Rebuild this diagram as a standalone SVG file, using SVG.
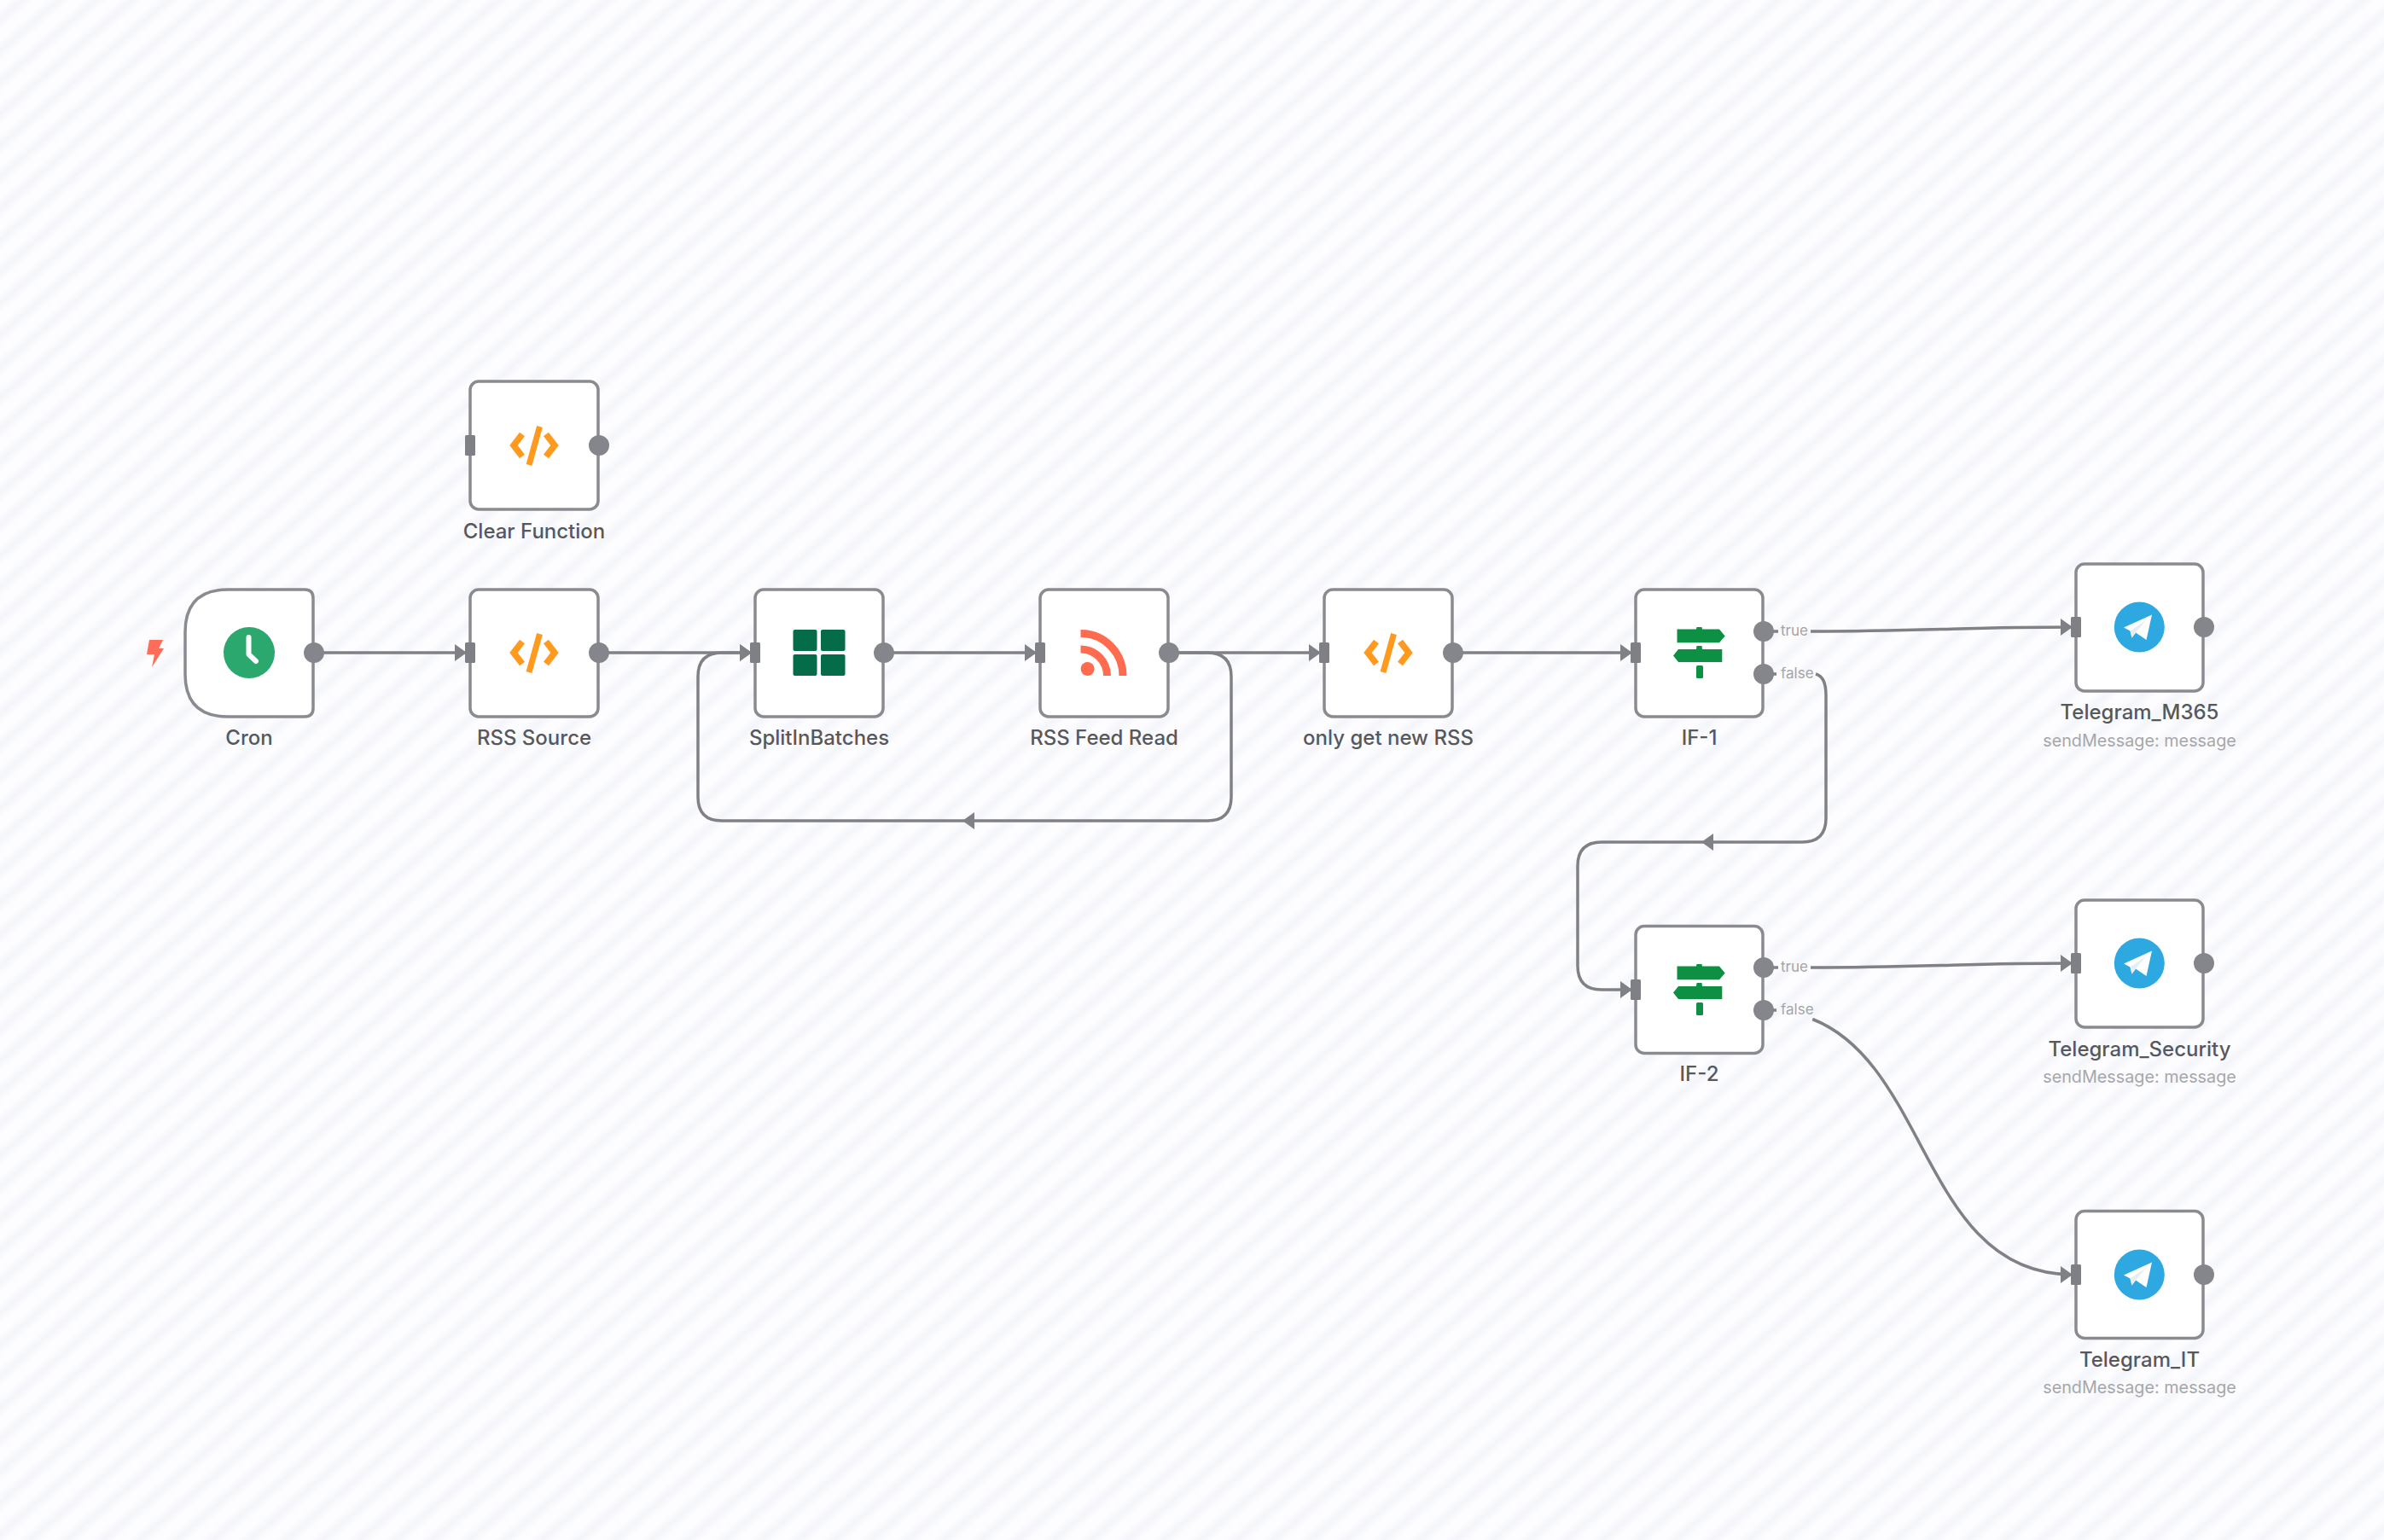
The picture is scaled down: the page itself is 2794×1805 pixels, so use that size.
<svg xmlns="http://www.w3.org/2000/svg" width="2794" height="1805" viewBox="0 0 2794 1805">
<style>
.box{fill:#fff;stroke:#8a8b90;stroke-width:3.5}
.in{fill:#7f8085}
.out{fill:#85868b}
.edge{fill:none;stroke:#808186;stroke-width:3.5}
.arrow{fill:#808186}
text{font-family:"Inter","Liberation Sans",sans-serif;text-anchor:middle}
.name{font-size:24px;font-weight:500;fill:#57585c}
.sub{font-size:19.8px;fill:#a6a7aa}
.lab{font-size:17px;fill:#a3a4a7;text-anchor:start}
</style>
<defs>
<linearGradient id="stripes" gradientUnits="userSpaceOnUse" x1="11.2" y1="12.9" x2="29.5" y2="34.1" spreadMethod="repeat">
<stop offset="0" stop-color="#f4f5fa"/><stop offset=".35" stop-color="#fdfdff"/><stop offset=".65" stop-color="#fdfdff"/><stop offset="1" stop-color="#f4f5fa"/>
</linearGradient>
<marker id="tip" markerUnits="userSpaceOnUse" markerWidth="14" markerHeight="20" refX="14" refY="10" orient="auto"><path d="M0 0L14 10L0 20Z" fill="#808186"/></marker>
<g id="i-code"><path d="M612 509L602 522L612 535M640 509L650 522L640 535" fill="none" stroke="#ff9a1f" stroke-width="7.5"/><path d="M632.500 500L620 545" fill="none" stroke="#ff9a1f" stroke-width="7"/></g>
<g id="i-if" fill="#0e9044"><path d="M1988 737.500L1988.500 735H1994.500L1995 737.500H2015L2021.700 745.500L2015 753.300H1965.500V737.500Z"/><path d="M1988 761L1988.500 757H1994.500L1995 761H2018.300V776H1967L1961 768.500L1967 761Z"/><rect x="1988" y="780" width="8" height="15" rx="1.500"/></g>
<g id="i-tg"><circle cx="2507.300" cy="735" r="29.500" fill="#2ea8e0"/><path d="M2489 735.500L2522 720.500L2515.500 750L2503 741.500L2498.500 747.500L2496.500 739.500Z" fill="#fff"/><path d="M2496.500 739.500L2498.500 747.500L2503 741.500L2515 727Z" fill="#e4eef4"/></g>
<rect id="port-in" x="-6" y="-12" width="12" height="24" rx="1.500" class="in"/>
</defs>
<rect id="background" width="2794" height="1805" fill="url(#stripes)"/>
<g id="connectors">
<path class="edge" marker-end="url(#tip)" d="M368 765H547"/>
<path class="edge" marker-end="url(#tip)" d="M702 765H881"/>
<path class="edge" marker-end="url(#tip)" d="M1035 765H1215"/>
<path class="edge" marker-end="url(#tip)" d="M1370 765H1548"/>
<path class="edge" marker-end="url(#tip)" d="M1703 765H1913"/>
<path class="edge" marker-end="url(#tip)" d="M1369 765H1415Q1443 765 1443 793V934Q1443 962 1415 962H846Q818 962 818 934V793Q818 765 846 765H881"/>
<polygon class="arrow" points="1128,962 1142,952 1142,972"/>
<path class="edge" d="M2066 790H2082M2128 790Q2140 793 2140 815V959Q2140 987 2112 987H1877Q1849 987 1849 1015V1132Q1849 1160 1877 1160H1913" marker-end="url(#tip)"/>
<polygon class="arrow" points="1994,987 2008,977 2008,997"/>
<path class="edge" d="M2066 740H2084M2122 740C2250 740 2300 735 2429 735" marker-end="url(#tip)"/>
<path class="edge" d="M2066 1134H2084M2122 1134C2250 1134 2300 1129 2429 1129" marker-end="url(#tip)"/>
<path class="edge" d="M2066 1184H2082M2124.200 1194.500C2261.600 1248.500 2255 1494 2429 1494" marker-end="url(#tip)"/>
</g>
<g id="edge-labels">
<text class="lab" x="2087" y="745">true</text>
<text class="lab" x="2087" y="795">false</text>
<text class="lab" x="2087" y="1139">true</text>
<text class="lab" x="2087" y="1189">false</text>
</g>
<g id="node-clear-function">
<rect class="box" x="551" y="447" width="150" height="150" rx="10"/>
<use href="#port-in" x="551" y="522"/><circle class="out" cx="702" cy="522" r="12"/>
<use href="#i-code"/>
<text class="name" x="626" y="631">Clear Function</text>
</g>
<g id="node-cron">
<path class="box" d="M267 691H357Q367 691 367 701V830Q367 840 357 840H267Q217 840 217 790V741Q217 691 267 691Z"/>
<circle class="out" cx="368" cy="765" r="12"/>
<circle cx="292" cy="765" r="30" fill="#2aa86d"/>
<path d="M291.500 747V767L300 775" fill="none" stroke="#fff" stroke-width="6" stroke-linecap="round" stroke-linejoin="round"/>
<path d="M175 750H191L186 760H192L178 782L181 767H172Z" fill="#ff6d5a"/>
<text class="name" x="292" y="873">Cron</text>
</g>
<g id="node-rss-source">
<rect class="box" x="551" y="691" width="150" height="149" rx="10"/>
<use href="#port-in" x="551" y="765"/><circle class="out" cx="702" cy="765" r="12"/>
<use href="#i-code" y="243"/>
<text class="name" x="626" y="873">RSS Source</text>
</g>
<g id="node-splitinbatches">
<rect class="box" x="885" y="691" width="150" height="149" rx="10"/>
<use href="#port-in" x="885" y="765"/><circle class="out" cx="1036" cy="765" r="12"/>
<g fill="#046c49"><rect x="929.500" y="738" width="28" height="25" rx="2"/><rect x="962" y="738" width="28.500" height="25" rx="2"/><rect x="929.500" y="767" width="28" height="25" rx="2"/><rect x="962" y="767" width="28.500" height="25" rx="2"/></g>
<text class="name" x="960" y="873">SplitInBatches</text>
</g>
<g id="node-rss-feed-read">
<rect class="box" x="1219" y="691" width="150" height="149" rx="10"/>
<use href="#port-in" x="1219" y="765"/><circle class="out" cx="1370" cy="765" r="12"/>
<circle cx="1274.600" cy="784" r="8" fill="#ff6b4f"/>
<path d="M1266.500 742.500A49.500 49.500 0 0 1 1316 792M1266.500 761A31 31 0 0 1 1297.500 792" fill="none" stroke="#ff6b4f" stroke-width="9"/>
<text class="name" x="1294" y="873">RSS Feed Read</text>
</g>
<g id="node-only-get-new-rss">
<rect class="box" x="1552" y="691" width="150" height="149" rx="10"/>
<use href="#port-in" x="1552" y="765"/><circle class="out" cx="1703" cy="765" r="12"/>
<use href="#i-code" x="1001" y="243"/>
<text class="name" x="1627" y="873">only get new RSS</text>
</g>
<g id="node-if-1">
<rect class="box" x="1917" y="691" width="149" height="149" rx="10"/>
<use href="#port-in" x="1917" y="765"/><circle class="out" cx="2067" cy="740" r="12"/><circle class="out" cx="2067" cy="790" r="12"/>
<use href="#i-if"/>
<text class="name" x="1991.500" y="873">IF-1</text>
</g>
<g id="node-if-2">
<rect class="box" x="1917" y="1085.500" width="149" height="149" rx="10"/>
<use href="#port-in" x="1917" y="1160"/><circle class="out" cx="2067" cy="1134" r="12"/><circle class="out" cx="2067" cy="1184" r="12"/>
<use href="#i-if" y="395"/>
<text class="name" x="1991.500" y="1267">IF-2</text>
</g>
<g id="node-telegram-m365">
<rect class="box" x="2433" y="661" width="149" height="149" rx="10"/>
<use href="#port-in" x="2433" y="735"/><circle class="out" cx="2583" cy="735" r="12"/>
<use href="#i-tg"/>
<text class="name" x="2507.500" y="843">Telegram_M365</text>
<text class="sub" x="2507.500" y="875">sendMessage: message</text>
</g>
<g id="node-telegram-security">
<rect class="box" x="2433" y="1055" width="149" height="149" rx="10"/>
<use href="#port-in" x="2433" y="1129"/><circle class="out" cx="2583" cy="1129" r="12"/>
<use href="#i-tg" y="394"/>
<text class="name" x="2507.500" y="1238">Telegram_Security</text>
<text class="sub" x="2507.500" y="1269">sendMessage: message</text>
</g>
<g id="node-telegram-it">
<rect class="box" x="2433" y="1419.500" width="149" height="149" rx="10"/>
<use href="#port-in" x="2433" y="1494"/><circle class="out" cx="2583" cy="1494" r="12"/>
<use href="#i-tg" y="759"/>
<text class="name" x="2507.500" y="1601.500">Telegram_IT</text>
<text class="sub" x="2507.500" y="1633">sendMessage: message</text>
</g>
</svg>
